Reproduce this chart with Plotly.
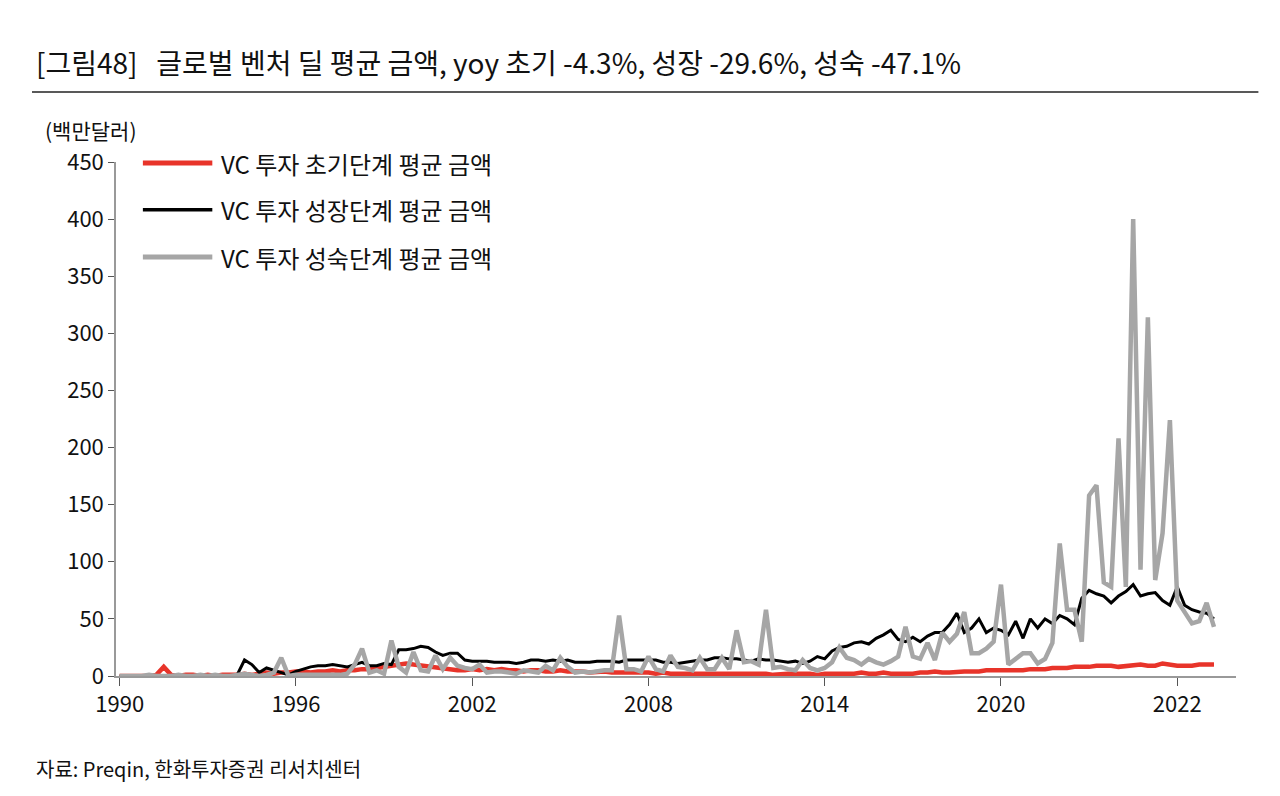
import plotly.graph_objects as go

FONT = "Noto Sans CJK KR"

# quarterly observations, 150 points (index 0 = 1990 Q1)
early = [0, 0, 0, 0, 0, 1, 8, 1, 0, 1,
         1, 0, 1, 0, 1, 1, 1, 2, 1, 2,
         3, 2, 3, 3, 4, 4, 3, 4, 4, 5,
         4, 5, 5, 6, 6, 7, 8, 9, 10, 11,
         10, 9, 8, 7, 6, 6, 5, 5, 6, 5,
         6, 5, 6, 5, 5, 4, 5, 5, 4, 4,
         5, 4, 4, 4, 3, 4, 4, 3, 3, 3,
         3, 3, 3, 2, 3, 2, 2, 2, 2, 2,
         2, 2, 2, 2, 2, 2, 2, 2, 2, 1,
         2, 2, 2, 2, 2, 1, 2, 2, 2, 2,
         2, 3, 2, 2, 3, 2, 2, 2, 2, 3,
         3, 4, 3, 3, 4, 4, 4, 4, 5, 5,
         5, 5, 5, 5, 6, 6, 6, 7, 7, 7,
         8, 8, 8, 9, 9, 9, 8, 9, 10, 10,
         9, 9, 11, 10, 9, 9, 9, 10, 10, 10]

growth = [0, 0, 0, 0, 0, 0, 0, 0, 0, 0,
          0, 0, 0, 0, 0, 0, 1, 14, 10, 3,
          7, 5, 3, 1, 4, 6, 8, 9, 9, 10,
          9, 8, 10, 12, 9, 9, 11, 10, 23, 23,
          24, 26, 25, 21, 18, 20, 20, 14, 13, 13,
          13, 12, 12, 12, 11, 12, 14, 14, 13, 14,
          13, 14, 12, 12, 12, 13, 13, 13, 12, 14,
          14, 14, 14, 14, 12, 12, 11, 12, 13, 14,
          14, 16, 16, 15, 15, 14, 13, 15, 14, 14,
          13, 12, 13, 11, 13, 17, 15, 22, 25, 26,
          29, 30, 28, 33, 36, 40, 32, 30, 34, 30,
          35, 38, 38, 45, 55, 38, 42, 50, 38, 42,
          40, 36, 48, 33, 50, 42, 50, 46, 53, 50,
          45, 68, 75, 72, 70, 64, 70, 74, 80, 70,
          72, 73, 66, 62, 78, 62, 58, 56, 55, 50]

mature = [0, 0, 0, 0, 1, 0, 0, 0, 1, 0,
          0, 1, 0, 1, 0, 0, 1, 2, 1, 0,
          1, 3, 16, 0, 1, 1, 1, 1, 1, 1,
          1, 2, 10, 24, 3, 5, 2, 31, 8, 3,
          21, 5, 4, 18, 6, 16, 9, 7, 6, 10,
          3, 4, 4, 3, 2, 5, 4, 3, 9, 5,
          16, 8, 3, 4, 3, 4, 5, 5, 53, 6,
          6, 4, 17, 6, 4, 18, 8, 7, 5, 16,
          6, 6, 16, 6, 40, 12, 13, 10, 58, 7,
          8, 6, 5, 14, 7, 5, 7, 12, 25, 16,
          14, 10, 15, 12, 10, 13, 17, 43, 17, 15,
          29, 14, 38, 30, 37, 56, 20, 20, 24, 30,
          80, 10, 15, 20, 20, 11, 15, 29, 116, 58,
          58, 30, 158, 167, 82, 78, 208, 78, 400, 93,
          314, 84, 125, 224, 66, 56, 46, 48, 64, 43]

tick_pos = [0, 24, 48, 72, 96, 120, 144]
tick_text = ["1990", "1996", "2002", "2008", "2014", "2020", "2022"]

names = ["VC 투자 초기단계 평균 금액", "VC 투자 성장단계 평균 금액", "VC 투자 성숙단계 평균 금액"]
colors = ["#e8342a", "#000000", "#a6a6a6"]
widths = [4.5, 3, 4.5]
series = [early, growth, mature]

fig = go.Figure()
x = list(range(len(early)))
for idx in range(3):
    fig.add_trace(go.Scatter(x=x, y=series[idx], mode="lines", name=names[idx],
                             line=dict(color=colors[idx], width=widths[idx]),
                             showlegend=False))

# hand-drawn legend (reference has wide row spacing)
shapes = [dict(type="line", xref="paper", yref="paper", x0=-0.075, x1=1.02,
               y0=1.136, y1=1.136, line=dict(color="#222", width=1.5))]
annotations = []
for k, ly in enumerate([0.998, 0.907, 0.815]):
    shapes.append(dict(type="line", xref="paper", yref="paper", x0=0.024, x1=0.086,
                       y0=ly, y1=ly, line=dict(color=colors[k], width=widths[k] + 0.5)))
    annotations.append(dict(text=names[k], xref="paper", yref="paper", x=0.092, y=ly,
                            xanchor="left", yanchor="middle", showarrow=False,
                            font=dict(size=24, family=FONT, color="#111")))

annotations += [
    dict(text="[그림48]   글로벌 벤처 딜 평균 금액, yoy 초기 -4.3%, 성장 -29.6%, 성숙 -47.1%",
         xref="paper", yref="paper", x=-0.073, y=1.0, xanchor="left", yanchor="middle",
         yshift=100, showarrow=False, font=dict(size=28, family=FONT, color="#111")),
    dict(text="(백만달러)", xref="paper", yref="paper", x=-0.065, y=1.0,
         xanchor="left", yanchor="middle", yshift=32, showarrow=False,
         font=dict(size=21, family=FONT)),
    dict(text="자료: Preqin, 한화투자증권 리서치센터", xref="paper", yref="paper",
         x=-0.073, y=0, xanchor="left", yanchor="middle", yshift=-92,
         showarrow=False, font=dict(size=20, family=FONT)),
]

fig.update_layout(
    width=1280, height=796,
    paper_bgcolor="white", plot_bgcolor="white",
    font=dict(family=FONT, size=20, color="#111"),
    margin=dict(l=108, r=52, t=154, b=128),
    shapes=shapes, annotations=annotations,
)
fig.update_xaxes(range=[-0.5, 152], tickmode="array", tickvals=tick_pos,
                 ticktext=tick_text, showgrid=False, showline=True,
                 linecolor="#999", linewidth=1.5, ticks="outside", ticklen=8,
                 tickcolor="#555", zeroline=False, tickfont=dict(size=22))
fig.update_yaxes(range=[0, 450], dtick=50, showgrid=False, showline=True,
                 linecolor="#999", linewidth=1.5, ticks="outside", ticklen=6,
                 tickcolor="#555", zeroline=False, tickfont=dict(size=22))

fig.write_html("out.html")
